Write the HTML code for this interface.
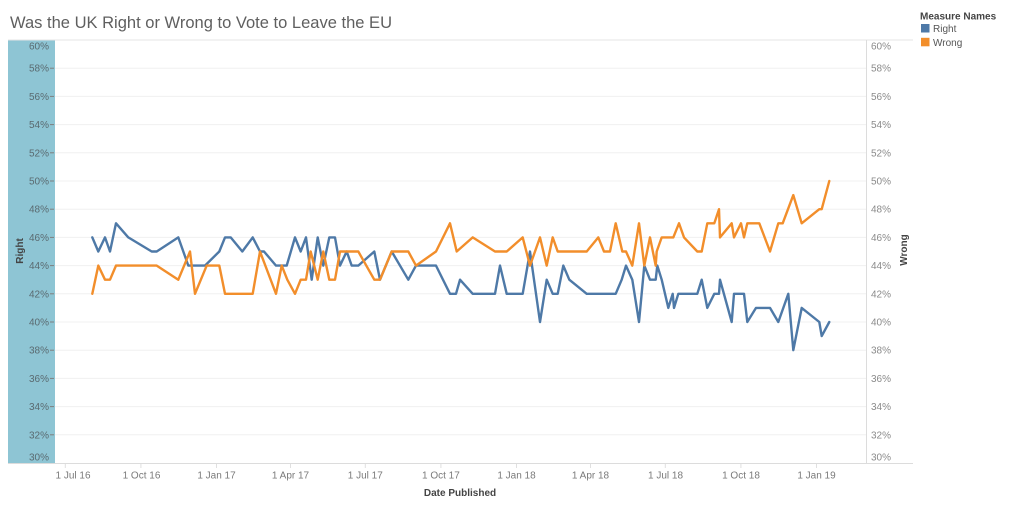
<!DOCTYPE html>
<html>
<head>
<meta charset="utf-8">
<style>
  html, body { margin: 0; padding: 0; background: #ffffff; }
  svg { display: block; }
  text { font-family: "Liberation Sans", sans-serif; }
</style>
</head>
<body>
<svg width="1024" height="512" viewBox="0 0 1024 512" xmlns="http://www.w3.org/2000/svg">
  <rect x="0" y="0" width="1024" height="512" fill="#ffffff"/>

  <!-- Title -->
  <text x="10" y="28" font-size="17" fill="#5f5f5f" textLength="382" lengthAdjust="spacingAndGlyphs">Was the UK Right or Wrong to Vote to Leave the EU</text>

  <!-- Left axis panel -->
  <rect x="8" y="40" width="47" height="423" fill="#8ec5d4"/>

  <!-- Gridlines -->
  <g stroke="#f0f0f0" stroke-width="1">
    <line x1="55" y1="68.2" x2="866" y2="68.2"/>
    <line x1="55" y1="96.4" x2="866" y2="96.4"/>
    <line x1="55" y1="124.6" x2="866" y2="124.6"/>
    <line x1="55" y1="152.8" x2="866" y2="152.8"/>
    <line x1="55" y1="181" x2="866" y2="181"/>
    <line x1="55" y1="209.2" x2="866" y2="209.2"/>
    <line x1="55" y1="237.4" x2="866" y2="237.4"/>
    <line x1="55" y1="265.6" x2="866" y2="265.6"/>
    <line x1="55" y1="293.8" x2="866" y2="293.8"/>
    <line x1="55" y1="322" x2="866" y2="322"/>
    <line x1="55" y1="350.2" x2="866" y2="350.2"/>
    <line x1="55" y1="378.4" x2="866" y2="378.4"/>
    <line x1="55" y1="406.6" x2="866" y2="406.6"/>
    <line x1="55" y1="434.8" x2="866" y2="434.8"/>
  </g>

  <!-- Borders -->
  <line x1="8" y1="40" x2="913" y2="40" stroke="#e4e4e4" stroke-width="1"/>
  <line x1="8" y1="463.5" x2="913" y2="463.5" stroke="#dcdcdc" stroke-width="1"/>
  <line x1="866.5" y1="40" x2="866.5" y2="463" stroke="#dcdcdc" stroke-width="1"/>

  <!-- Left tick dashes -->
  <g stroke="#7f7f7f" stroke-width="1">
    <line x1="50" y1="68.2" x2="54" y2="68.2"/>
    <line x1="50" y1="96.4" x2="54" y2="96.4"/>
    <line x1="50" y1="124.6" x2="54" y2="124.6"/>
    <line x1="50" y1="152.8" x2="54" y2="152.8"/>
    <line x1="50" y1="181" x2="54" y2="181"/>
    <line x1="50" y1="209.2" x2="54" y2="209.2"/>
    <line x1="50" y1="237.4" x2="54" y2="237.4"/>
    <line x1="50" y1="265.6" x2="54" y2="265.6"/>
    <line x1="50" y1="293.8" x2="54" y2="293.8"/>
    <line x1="50" y1="322" x2="54" y2="322"/>
    <line x1="50" y1="350.2" x2="54" y2="350.2"/>
    <line x1="50" y1="378.4" x2="54" y2="378.4"/>
    <line x1="50" y1="406.6" x2="54" y2="406.6"/>
    <line x1="50" y1="434.8" x2="54" y2="434.8"/>
  </g>

  <!-- Left tick labels -->
  <g font-size="10" fill="#5a6a70" text-anchor="end">
    <text x="49" y="49.5">60%</text>
    <text x="49" y="71.7">58%</text>
    <text x="49" y="99.9">56%</text>
    <text x="49" y="128.1">54%</text>
    <text x="49" y="156.3">52%</text>
    <text x="49" y="184.5">50%</text>
    <text x="49" y="212.7">48%</text>
    <text x="49" y="240.9">46%</text>
    <text x="49" y="269.1">44%</text>
    <text x="49" y="297.3">42%</text>
    <text x="49" y="325.5">40%</text>
    <text x="49" y="353.7">38%</text>
    <text x="49" y="381.9">36%</text>
    <text x="49" y="410.1">34%</text>
    <text x="49" y="438.3">32%</text>
    <text x="49" y="460.5">30%</text>
  </g>

  <!-- Right tick labels -->
  <g font-size="10" fill="#8a8a8a" text-anchor="start">
    <text x="871" y="49.5">60%</text>
    <text x="871" y="71.7">58%</text>
    <text x="871" y="99.9">56%</text>
    <text x="871" y="128.1">54%</text>
    <text x="871" y="156.3">52%</text>
    <text x="871" y="184.5">50%</text>
    <text x="871" y="212.7">48%</text>
    <text x="871" y="240.9">46%</text>
    <text x="871" y="269.1">44%</text>
    <text x="871" y="297.3">42%</text>
    <text x="871" y="325.5">40%</text>
    <text x="871" y="353.7">38%</text>
    <text x="871" y="381.9">36%</text>
    <text x="871" y="410.1">34%</text>
    <text x="871" y="438.3">32%</text>
    <text x="871" y="460.5">30%</text>
  </g>

  <!-- Axis titles -->
  <text transform="translate(23,251) rotate(-90)" font-size="10" font-weight="bold" fill="#444" text-anchor="middle">Right</text>
  <text transform="translate(907,250) rotate(-90)" font-size="10" font-weight="bold" fill="#444" text-anchor="middle">Wrong</text>

  <!-- X ticks -->
  <g stroke="#e0e0e0" stroke-width="1">
    <line x1="65.3" y1="464" x2="65.3" y2="468"/>
    <line x1="140.9" y1="464" x2="140.9" y2="468"/>
    <line x1="216.5" y1="464" x2="216.5" y2="468"/>
    <line x1="290.5" y1="464" x2="290.5" y2="468"/>
    <line x1="365.3" y1="464" x2="365.3" y2="468"/>
    <line x1="440.9" y1="464" x2="440.9" y2="468"/>
    <line x1="516.5" y1="464" x2="516.5" y2="468"/>
    <line x1="590.5" y1="464" x2="590.5" y2="468"/>
    <line x1="665.3" y1="464" x2="665.3" y2="468"/>
    <line x1="740.9" y1="464" x2="740.9" y2="468"/>
    <line x1="816.5" y1="464" x2="816.5" y2="468"/>
  </g>

  <!-- X labels -->
  <g font-size="10" fill="#7a7a7a" text-anchor="middle">
    <text x="73" y="478.5">1 Jul 16</text>
    <text x="141.5" y="478.5">1 Oct 16</text>
    <text x="216.5" y="478.5">1 Jan 17</text>
    <text x="290.5" y="478.5">1 Apr 17</text>
    <text x="365.3" y="478.5">1 Jul 17</text>
    <text x="440.9" y="478.5">1 Oct 17</text>
    <text x="516.5" y="478.5">1 Jan 18</text>
    <text x="590.5" y="478.5">1 Apr 18</text>
    <text x="665.5" y="478.5">1 Jul 18</text>
    <text x="741" y="478.5">1 Oct 18</text>
    <text x="816.5" y="478.5">1 Jan 19</text>
  </g>
  <text x="460" y="496" font-size="10" font-weight="bold" fill="#444" text-anchor="middle">Date Published</text>

  <!-- Series: Right (blue) -->
  <polyline fill="none" stroke="#4e79a7" stroke-width="2.4" stroke-linejoin="round" stroke-linecap="round"
    points="92.3,237.4 98.3,251.5 105,237.4 110,251.5 116,223.3 128.3,237.4 151.7,251.5 156.7,251.5 178.3,237.4 188.3,265.6 205,265.6 219.3,251.5 225,237.4 230.7,237.4 242.3,251.5 252.7,237.4 260,251.5 264,251.5 276,265.6 286.7,265.6 295,237.4 300.7,251.5 306,237.4 311.7,279.7 317.7,237.4 323.3,265.6 329.3,237.4 335,237.4 340,265.6 346.7,251.5 351.7,265.6 358.3,265.6 374.3,251.5 380,279.7 391.7,251.5 408.3,279.7 416,265.6 436,265.6 450,293.8 456,293.8 460,279.7 472.7,293.8 495,293.8 500,265.6 506.7,293.8 522.7,293.8 530,251.5 540,322 546.7,279.7 552.7,293.8 557.7,293.8 563.3,265.6 569.3,279.7 586.7,293.8 600,293.8 615.7,293.8 621.7,279.7 626,265.6 632.3,279.7 639,322 644.3,265.6 650,279.7 655.7,279.7 657.3,265.6 661.7,279.7 668.3,307.9 672.7,293.8 674,307.9 678.3,293.8 697.3,293.8 701.7,279.7 707.3,307.9 714.3,293.8 719,293.8 720,279.7 731.7,322 734,293.8 744,293.8 747.3,322 756,307.9 770,307.9 778.3,322 788.3,293.8 793.3,350.2 801.7,307.9 819.3,322 821.7,336.1 829.3,322"/>

  <!-- Series: Wrong (orange) -->
  <polyline fill="none" stroke="#f28e2b" stroke-width="2.4" stroke-linejoin="round" stroke-linecap="round"
    points="92.3,293.8 98.3,265.6 105,279.7 110,279.7 116,265.6 156.7,265.6 178.3,279.7 190,251.5 195,293.8 206.7,265.6 219.3,265.6 225,293.8 252.7,293.8 260,251.5 276,293.8 281.7,265.6 287.3,279.7 295,293.8 300.7,279.7 306,279.7 310.7,251.5 317.7,279.7 323.3,251.5 329.3,279.7 335,279.7 340,251.5 358.3,251.5 374.3,279.7 380,279.7 391.7,251.5 408.3,251.5 416,265.6 436,251.5 450,223.3 456.7,251.5 472.7,237.4 495,251.5 506.7,251.5 522.7,237.4 530,265.6 540,237.4 546.7,265.6 552.7,237.4 557.7,251.5 586.7,251.5 598.3,237.4 604,251.5 610,251.5 615.7,223.3 622.3,251.5 626,251.5 632.3,265.6 639,223.3 644.3,265.6 650,237.4 655.7,265.6 656.7,251.5 661.7,237.4 673.3,237.4 679,223.3 684,237.4 697.3,251.5 701.7,251.5 707.3,223.3 714.3,223.3 719,209.2 720,237.4 731.7,223.3 734,237.4 741,223.3 744,237.4 747.3,223.3 759.3,223.3 770,251.5 778.3,223.3 782.7,223.3 793.3,195.1 801.7,223.3 819.3,209.2 821.7,209.2 829.3,181"/>

  <!-- Legend -->
  <text x="920" y="19.5" font-size="10" font-weight="bold" fill="#444">Measure Names</text>
  <rect x="921" y="24" width="8.5" height="8.5" fill="#4e79a7"/>
  <text x="933" y="32" font-size="10" fill="#555">Right</text>
  <rect x="921" y="37.8" width="8.5" height="8.5" fill="#f28e2b"/>
  <text x="933" y="46" font-size="10" fill="#555">Wrong</text>
</svg>
</body>
</html>
